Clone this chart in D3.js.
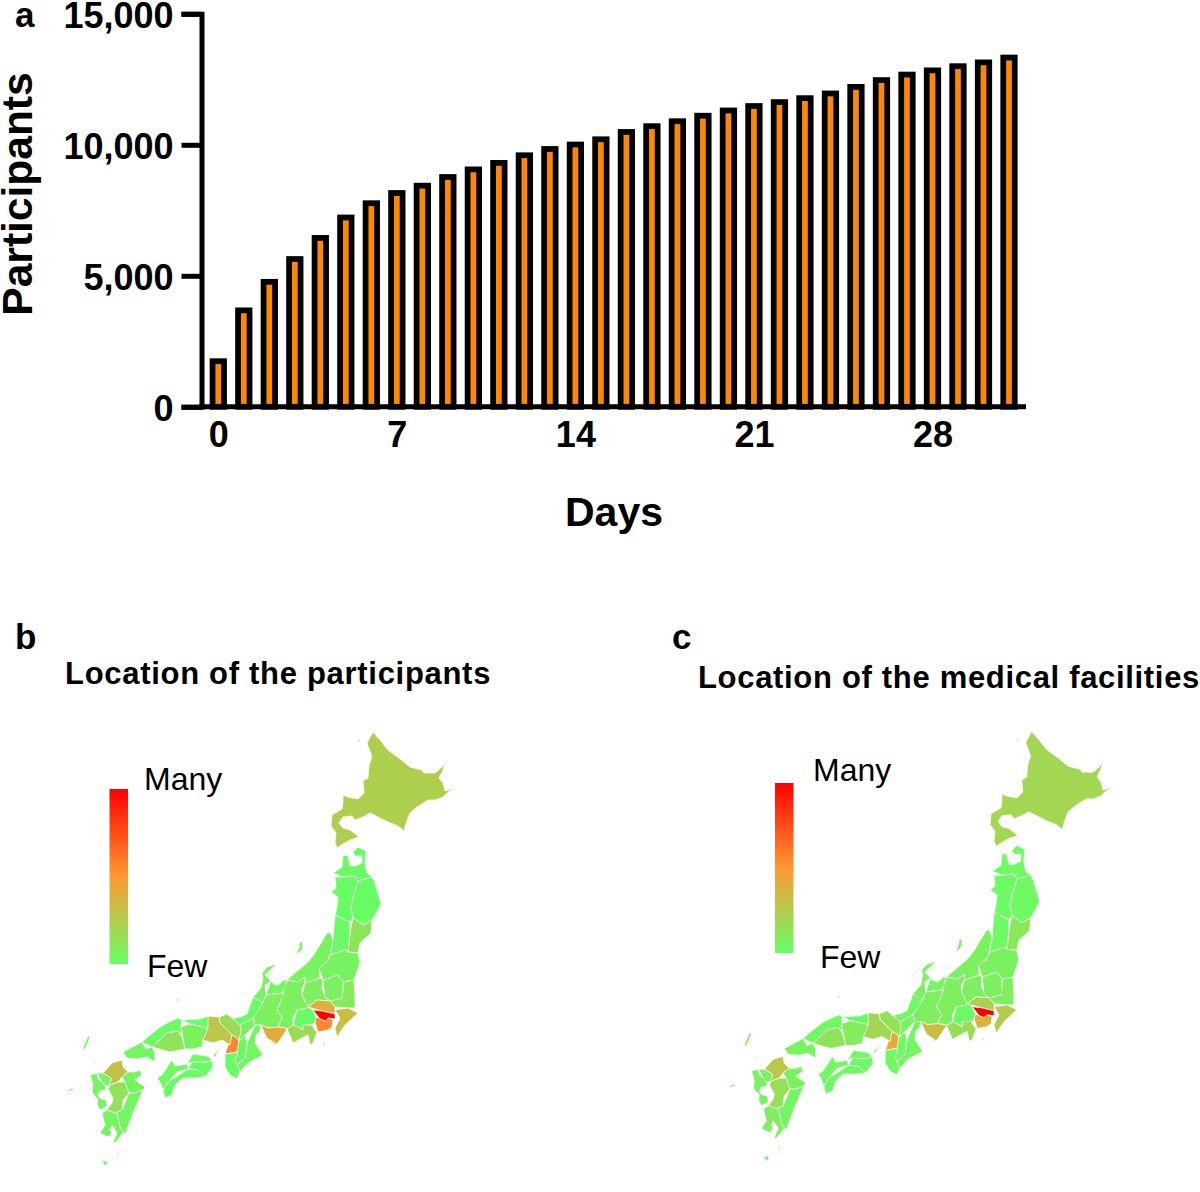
<!DOCTYPE html>
<html>
<head>
<meta charset="utf-8">
<script src="https://cdnjs.cloudflare.com/ajax/libs/d3/7.8.5/d3.min.js"></script>
<style>
  body { margin: 0; background: #fff; }
  text { font-family: "Liberation Sans", Arial, sans-serif; fill: #000; }
</style>
</head>
<body>
<svg id="fig" width="1200" height="1192"></svg>
<script>
// panel a
var days = d3.range(0, 32);
var participants = [1850, 3790, 4880, 5750, 6555, 7335, 7880, 8270, 8550, 8880, 9170, 9420, 9710, 9950, 10120, 10320,
  10600, 10820, 11010, 11220, 11420, 11590, 11740, 11890, 12070, 12320, 12580, 12790, 12950, 13110, 13255, 13440];
var yTicks = [0, 5000, 10000, 15000];
var xTicks = [0, 7, 14, 21, 28];

// panels b, c: same order everywhere, Okinawa is not on the map
var prefNames = ["Hokkaido", "Aomori", "Iwate", "Miyagi", "Akita", "Yamagata", "Fukushima", "Ibaraki", "Tochigi", "Gunma",
  "Saitama", "Chiba", "Tokyo", "Kanagawa", "Niigata", "Toyama", "Ishikawa", "Fukui", "Yamanashi", "Nagano", "Gifu",
  "Shizuoka", "Aichi", "Mie", "Shiga", "Kyoto", "Osaka", "Hyogo", "Nara", "Wakayama", "Tottori", "Shimane", "Okayama",
  "Hiroshima", "Yamaguchi", "Tokushima", "Kagawa", "Ehime", "Kochi", "Fukuoka", "Saga", "Nagasaki", "Kumamoto", "Oita",
  "Miyazaki", "Kagoshima"];
// 0 = few, 1 = many
var participantLevels = [.235, .02, .01, .13, .01, .02, .06, .1, .07, .08, .39, .32, 1, .56, .06, .04, .05, .01, .01, .07, .08,
  .18, .41, .04, .07, .17, .57, .28, .04, .01, .01, .02, .07, .13, .04, .01, .02, .03, .01, .3, .03, .05, .14, .06, .04, .05];
var facilityLevels = [.2, .03, .03, .12, .02, .03, .07, .08, .07, .08, .22, .26, 1, .38, .07, .05, .06, .03, .01, .08, .08,
  .17, .33, .05, .05, .14, .42, .2, .03, .03, .01, .03, .09, .13, .06, .02, .03, .04, .02, .28, .04, .07, .15, .06, .05, .08];
var scaleStops = [0, .5, 1];
var scaleColors = ["#66ff66", "#ff9933", "#ff0000"];

// outlines
var prefRings = [
  [[[373,732],[380,740],[388,750],[400,759],[410,767],[422,770],[424,773],[435,773],[442,767],[445,762],[443,770],[439,778],[443,783],[445,791],[456,788],[448,792],[443,797],[435,800],[428,800],[417,807],[410,813],[406,823],[404,831],[398,826],[388,822],[378,817],[370,813],[363,817],[355,820],[352,816],[343,817],[339,823],[343,828],[350,830],[359,837],[350,840],[343,844],[337,848],[335,842],[336,833],[331,826],[332,815],[342,809],[343,802],[343,795],[348,797],[358,799],[364,793],[363,781],[368,778],[369,765],[372,757],[367,743],[367,738]],
   [[357,739],[360,740],[360,743],[357,742]], [[323,826],[324,827],[323,830],[322,829]]],
  [[[333,873],[342,867],[343,855],[348,856],[350,866],[355,866],[362,863],[362,856],[355,856],[353,852],[358,847],[366,851],[365,863],[367,873],[372,877],[358,881],[355,876],[343,877],[335,877]]],
  [[[358,881],[372,877],[375,883],[379,897],[381,903],[377,912],[372,920],[363,925],[353,918],[351,908],[354,893],[357,885]]],
  [[[353,918],[363,925],[372,920],[371,933],[360,943],[358,953],[348,952],[350,933],[350,922]]],
  [[[335,877],[343,877],[355,876],[358,881],[357,885],[354,893],[351,908],[353,918],[350,922],[345,920],[335,915],[337,907],[338,897],[331,892],[336,888],[336,880]]],
  [[[335,915],[345,920],[350,922],[350,933],[348,952],[345,950],[330,955],[333,940],[330,932]]],
  [[[319,968],[327,962],[330,955],[345,950],[348,952],[358,953],[360,963],[354,980],[343,982],[338,975],[323,980],[320,978]]],
  [[[343,982],[354,980],[355,997],[355,1008],[348,1008],[335,1007],[330,1001],[342,998],[343,992]]],
  [[[323,980],[338,975],[343,982],[343,992],[342,998],[330,1001],[325,997],[322,988]]],
  [[[305,983],[320,978],[323,980],[322,988],[325,997],[330,1001],[317,1000],[308,1007],[302,995],[302,988]]],
  [[[308,1007],[317,1000],[330,1001],[335,1007],[335,1014],[322,1011],[313,1010]]],
  [[[335,1010],[348,1008],[358,1013],[345,1025],[337,1037],[335,1028],[340,1018],[335,1014]]],
  [[[313,1010],[322,1011],[335,1014],[335,1019],[328,1018],[325,1021],[320,1019],[316,1017]],
   [[323,1042],[325,1043],[325,1045],[323,1044]], [[326,1061],[328,1062],[327,1063]], [[333,1090],[335,1091],[334,1092]]],
  [[[315,1022],[316,1017],[320,1019],[325,1021],[328,1018],[333,1020],[332,1027],[328,1030],[318,1032],[315,1030]]],
  [[[327,933],[330,932],[333,940],[330,955],[327,962],[319,968],[320,978],[305,983],[305,977],[298,982],[287,980],[295,973],[308,962],[315,953],[323,945]],
   [[300,941],[303,943],[302,947],[303,948],[298,954],[297,952],[299,948],[297,946]]],
  [[[271,981],[274,984],[278,985],[284,980],[287,980],[284,993],[266,995],[265,985]]],
  [[[277,964],[267,967],[262,973],[263,978],[261,988],[253,997],[263,1003],[266,995],[265,985],[271,981],[265,975],[268,972],[275,968]]],
  [[[253,997],[263,1003],[262,1013],[253,1018],[250,1020],[240,1025],[232,1019],[240,1017],[247,1014],[245,1004]]],
  [[[297,1010],[307,1008],[308,1007],[313,1010],[316,1017],[315,1022],[312,1025],[303,1025],[303,1030],[293,1025],[293,1018]]],
  [[[287,980],[298,982],[305,977],[305,983],[302,988],[302,995],[308,1007],[307,1008],[297,1010],[293,1018],[293,1025],[287,1029],[285,1028],[278,1027],[282,1018],[277,1010],[284,993]]],
  [[[263,1003],[266,995],[284,993],[277,1010],[282,1018],[278,1027],[268,1028],[261,1025],[255,1025],[253,1018],[262,1013]]],
  [[[287,1029],[293,1025],[303,1030],[303,1025],[312,1025],[315,1030],[317,1032],[313,1043],[310,1045],[308,1035],[302,1038],[293,1043],[278,1043]]],
  [[[261,1025],[268,1028],[278,1027],[285,1028],[287,1029],[278,1043],[268,1047],[275,1043],[267,1038],[264,1032],[260,1031]]],
  [[[255,1025],[261,1025],[260,1031],[256,1035],[255,1043],[263,1055],[248,1063],[240,1072],[237,1065],[245,1058],[247,1043],[245,1035]]],
  [[[240,1025],[250,1020],[253,1018],[255,1025],[245,1035],[239,1041],[241,1030]]],
  [[[227,1014],[219,1017],[220,1023],[232,1035],[237,1038],[239,1041],[241,1030],[240,1025],[232,1019]]],
  [[[232,1035],[237,1038],[239,1041],[238,1052],[225,1054],[230,1045]]],
  [[[208,1016],[219,1017],[220,1023],[232,1035],[230,1045],[222,1040],[213,1043],[203,1040],[208,1028]],
   [[220,1047],[215,1057],[213,1056],[217,1050]]],
  [[[239,1041],[245,1035],[247,1043],[245,1058],[237,1065],[235,1060],[238,1052]]],
  [[[225,1054],[238,1052],[235,1060],[237,1065],[240,1072],[237,1079],[230,1075],[225,1067],[223,1060]]],
  [[[182,1020],[200,1019],[208,1016],[208,1028],[190,1024],[181,1027]]],
  [[[142,1042],[150,1035],[163,1025],[178,1018],[182,1020],[181,1027],[182,1037],[178,1031],[167,1033],[152,1047],[146,1049]],
   [[176,999],[179,999],[179,1002],[176,1002]]],
  [[[181,1027],[190,1024],[208,1028],[203,1040],[202,1047],[193,1049],[185,1049],[182,1037]]],
  [[[152,1047],[167,1033],[178,1031],[182,1037],[185,1049],[170,1052],[155,1053]]],
  [[[142,1042],[146,1049],[152,1047],[155,1053],[155,1062],[147,1057],[138,1059],[127,1058],[123,1052],[135,1050]]],
  [[[192,1062],[208,1062],[212,1060],[213,1067],[205,1077],[198,1070],[188,1069],[187,1064]]],
  [[[193,1054],[207,1056],[212,1060],[208,1062],[192,1062],[187,1064],[188,1058]]],
  [[[172,1060],[175,1066],[187,1064],[188,1069],[177,1072],[168,1082],[163,1090],[160,1082],[157,1078],[162,1075],[165,1065]]],
  [[[188,1069],[198,1070],[205,1077],[195,1078],[183,1078],[175,1085],[172,1095],[165,1098],[163,1090],[168,1082],[177,1072]]],
  [[[112,1063],[122,1060],[123,1067],[128,1072],[122,1077],[118,1082],[110,1085],[111,1078],[103,1073],[110,1070]]],
  [[[97,1073],[103,1073],[111,1078],[110,1085],[105,1086],[102,1082],[98,1079]]],
  [[[90,1075],[97,1073],[98,1079],[102,1082],[105,1086],[106,1090],[100,1091],[98,1096],[101,1099],[106,1100],[107,1106],[100,1110],[97,1104],[98,1099],[94,1095],[92,1092],[93,1085],[88,1081]],
   [[88,1036],[90,1037],[87,1045],[84,1051],[83,1048],[85,1040]], [[93,1061],[95,1061],[95,1064],[93,1064]],
   [[65,1092],[72,1088],[74,1090],[68,1095]], [[76,1084],[78,1085],[76,1087]], [[86,1076],[88,1077],[86,1078]]],
  [[[110,1085],[118,1082],[125,1082],[129,1093],[123,1100],[122,1110],[115,1113],[107,1110],[112,1103],[113,1098],[108,1089],[105,1086]]],
  [[[122,1077],[128,1072],[135,1072],[140,1070],[142,1075],[135,1080],[145,1087],[143,1090],[135,1093],[129,1093],[125,1082],[118,1082]]],
  [[[129,1093],[135,1093],[143,1090],[133,1113],[125,1135],[120,1127],[117,1113],[115,1113],[122,1110],[123,1100]]],
  [[[102,1113],[107,1110],[115,1113],[117,1113],[120,1127],[125,1135],[123,1133],[115,1143],[113,1142],[117,1133],[112,1125],[110,1130],[112,1133],[108,1137],[100,1133],[105,1125],[102,1118]],
   [[118,1151],[119,1153],[116,1163],[114,1163]], [[102,1161],[106,1161],[108,1163],[105,1166],[102,1164]], [[90,1122],[92,1122],[90,1125]]]
];

var svg = d3.select("#fig");

// ---- panel a ----
var x = d3.scaleLinear().domain([0, 31]).range([218.3, 1009]);
var y = d3.scaleLinear().domain([0, 15000]).range([406.8, 13.8]);
var barStroke = 5.75, barWidth = 11.5;
var chart = svg.append("g");

chart.selectAll("rect.bar")
  .data(days)
  .enter().append("rect")
  .attr("class", "bar")
  .attr("x", function(d) { return x(d) - barWidth / 2; })
  .attr("y", function(d) { return y(participants[d]) + barStroke / 2; })
  .attr("width", barWidth)
  .attr("height", function(d) { return y(0) - y(participants[d]) - barStroke / 2; })
  .attr("fill", "#ff8800")
  .attr("stroke", "#000")
  .attr("stroke-width", barStroke);

var yAxis = chart.append("g")
  .attr("transform", "translate(201.5,0)")
  .call(d3.axisLeft(y).tickValues(yTicks).tickFormat(d3.format(",")).tickSize(20).tickPadding(8));
var xAxis = chart.append("g")
  .attr("transform", "translate(0," + y(0) + ")")
  .call(d3.axisBottom(x).tickValues(xTicks).tickFormat(d3.format("d")).tickSize(0).tickPadding(15));
xAxis.select(".domain").attr("d", "M199,0H1026");

[yAxis, xAxis].forEach(function(a) {
  a.selectAll(".domain").attr("stroke", "#000").attr("stroke-width", 5);
  a.selectAll(".tick line").attr("stroke", "#000").attr("stroke-width", 5);
  a.selectAll("text").attr("font-size", 36).attr("font-weight", "bold").attr("font-family", "Liberation Sans").attr("fill", "#000");
});
yAxis.selectAll("text").attr("dy", ".37em");

chart.append("text").attr("transform", "translate(32,194) rotate(-90)")
  .attr("text-anchor", "middle").attr("font-size", 42.5).attr("font-weight", "bold").text("Participants");
chart.append("text").attr("x", 614).attr("y", 526)
  .attr("text-anchor", "middle").attr("font-size", 41).attr("font-weight", "bold").text("Days");

// panel letters
[["a", 15, 27], ["b", 15, 649], ["c", 672, 649]].forEach(function(l) {
  svg.append("text").attr("x", l[1]).attr("y", l[2]).attr("font-size", 35).attr("font-weight", "bold").text(l[0]);
});

// ---- panels b, c ----
var levelColor = d3.scaleLinear().domain(scaleStops).range(scaleColors);
var prefFeatures = prefNames.map(function(name, i) {
  return { type: "Feature", properties: { name: name, index: i }, geometry: { type: "MultiPolygon", coordinates: prefRings[i].map(function(r) { return [r]; }) } };
});

var grad = svg.append("defs").append("linearGradient").attr("id", "few-many")
  .attr("x1", 0).attr("y1", 1).attr("x2", 0).attr("y2", 0);
scaleStops.forEach(function(s) {
  grad.append("stop").attr("offset", s).attr("stop-color", levelColor(s));
});

function drawMap(levels, scale, tx, ty) {
  var projection = d3.geoIdentity().scale(scale).translate([tx, ty]);
  var path = d3.geoPath(projection);
  svg.append("g").selectAll("path")
    .data(prefFeatures)
    .enter().append("path")
    .attr("d", path)
    .attr("fill", function(d) { return levelColor(levels[d.properties.index]); })
    .attr("stroke", "#fff")
    .attr("stroke-width", 0.7)
    .attr("stroke-linejoin", "round")
    .append("title").text(function(d) { return d.properties.name; });
}

function drawLegend(bx, by, bh, manyX, manyY, fewX, fewY) {
  svg.append("rect").attr("x", bx).attr("y", by).attr("width", 18.5).attr("height", bh).attr("fill", "url(#few-many)");
  svg.append("text").attr("x", manyX).attr("y", manyY).attr("font-size", 32).text("Many");
  svg.append("text").attr("x", fewX).attr("y", fewY).attr("font-size", 32).text("Few");
}

drawMap(participantLevels, 1, 0, 0);
drawMap(facilityLevels, 0.99, 662.4, 6.9);
drawLegend(109.5, 789, 175, 144, 790, 147, 977);
drawLegend(775, 783, 170, 813, 781, 820, 968);

svg.append("text").attr("x", 65).attr("y", 684).attr("font-size", 31).attr("font-weight", "bold")
  .attr("letter-spacing", 0.7).text("Location of the participants");
svg.append("text").attr("x", 698).attr("y", 688).attr("font-size", 31).attr("font-weight", "bold")
  .attr("letter-spacing", 0.68).text("Location of the medical facilities");
</script>
</body>
</html>
